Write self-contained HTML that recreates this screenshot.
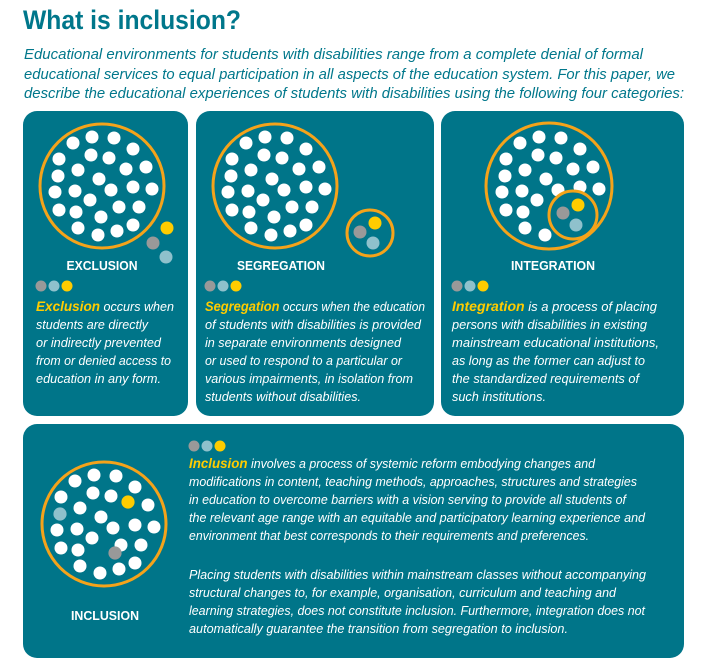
<!DOCTYPE html>
<html><head><meta charset="utf-8"><style>
html,body{margin:0;padding:0;background:#fff;}
svg{display:block;}
text{font-family:"Liberation Sans",sans-serif;}
.it{font-style:italic;fill:#fff;font-size:12.5px;}
.hd{font-style:italic;font-weight:bold;fill:#ffcc00;font-size:13.5px;}
.lb{font-weight:bold;fill:#fff;font-size:13px;text-anchor:middle;}
</style></head><body>
<svg width="708" height="664" viewBox="0 0 708 664" xmlns="http://www.w3.org/2000/svg">
<defs>
<g id="base" fill="#fff">
<circle cx="-29" cy="-43" r="6.5"/><circle cx="-10" cy="-49" r="6.5"/><circle cx="12" cy="-48" r="6.5"/><circle cx="31" cy="-37" r="6.5"/>
<circle cx="-43" cy="-27" r="6.5"/><circle cx="-11" cy="-31" r="6.5"/><circle cx="7" cy="-28" r="6.5"/><circle cx="44" cy="-19" r="6.5"/>
<circle cx="-24" cy="-16" r="6.5"/><circle cx="-3" cy="-7" r="6.5"/>
<circle cx="-47" cy="6" r="6.5"/><circle cx="-27" cy="5" r="6.5"/><circle cx="9" cy="4" r="6.5"/><circle cx="31" cy="1" r="6.5"/>
<circle cx="50" cy="3" r="6.5"/><circle cx="-43" cy="24" r="6.5"/><circle cx="-26" cy="26" r="6.5"/><circle cx="-12" cy="14" r="6.5"/>
<circle cx="-24" cy="42" r="6.5"/><circle cx="-4" cy="49" r="6.5"/>
</g>
<g id="dots"><use href="#base"/><g fill="#fff">
<circle cx="24" cy="-17" r="6.5"/><circle cx="-44" cy="-10" r="6.5"/><circle cx="-1" cy="31" r="6.5"/>
<circle cx="17" cy="21" r="6.5"/><circle cx="37" cy="21" r="6.5"/><circle cx="15" cy="45" r="6.5"/><circle cx="31" cy="39" r="6.5"/></g></g>
<g id="dotsI"><use href="#base"/><g fill="#fff"><circle cx="24" cy="-17" r="6.5"/><circle cx="-44" cy="-10" r="6.5"/></g></g>
<g id="dotsC"><use href="#base"/><g fill="#fff"><circle cx="17" cy="21" r="6.5"/><circle cx="37" cy="21" r="6.5"/><circle cx="15" cy="45" r="6.5"/><circle cx="31" cy="39" r="6.5"/></g></g>
<g id="trio"><circle cx="0" cy="0" r="5.5" fill="#999"/><circle cx="13" cy="0" r="5.5" fill="#8fc1cc"/><circle cx="26" cy="0" r="5.5" fill="#ffcc00"/></g>
</defs>

<text x="23" y="29" font-size="27" font-weight="bold" fill="#00778b" textLength="218" lengthAdjust="spacingAndGlyphs">What is inclusion?</text>
<g font-size="14.5" font-style="italic" fill="#00778b">
<text x="24" y="59" textLength="619" lengthAdjust="spacingAndGlyphs">Educational environments for students with disabilities range from a complete denial of formal</text>
<text x="24" y="79" textLength="651" lengthAdjust="spacingAndGlyphs">educational services to equal participation in all aspects of the education system. For this paper, we</text>
<text x="24" y="98" textLength="660" lengthAdjust="spacingAndGlyphs">describe the educational experiences of students with disabilities using the following four categories:</text>
</g>

<g fill="#007589">
<rect x="23" y="111" width="165" height="305" rx="14"/>
<rect x="196" y="111" width="238" height="305" rx="14"/>
<rect x="441" y="111" width="243" height="305" rx="14"/>
<rect x="23" y="424" width="661" height="234" rx="14"/>
</g>

<!-- Exclusion -->
<circle cx="102" cy="186" r="62" fill="none" stroke="#f5a31a" stroke-width="3"/>
<use href="#dots" x="102" y="186"/>
<circle cx="167" cy="228" r="6.5" fill="#ffcc00"/><circle cx="153" cy="243" r="6.5" fill="#999"/><circle cx="166" cy="257" r="6.5" fill="#8fc1cc"/>
<text class="lb" x="102" y="270" textLength="71" lengthAdjust="spacingAndGlyphs">EXCLUSION</text>
<use href="#trio" x="41" y="286"/>
<text x="36" y="311" class="it" textLength="138" lengthAdjust="spacingAndGlyphs"><tspan class="hd">Exclusion</tspan> occurs when</text>
<text x="36" y="329" class="it" textLength="112" lengthAdjust="spacingAndGlyphs">students are directly</text>
<text x="36" y="347" class="it" textLength="125" lengthAdjust="spacingAndGlyphs">or indirectly prevented</text>
<text x="36" y="365" class="it" textLength="135" lengthAdjust="spacingAndGlyphs">from or denied access to</text>
<text x="36" y="383" class="it" textLength="125" lengthAdjust="spacingAndGlyphs">education in any form.</text>

<!-- Segregation -->
<circle cx="275" cy="186" r="62" fill="none" stroke="#f5a31a" stroke-width="3"/>
<use href="#dots" x="275" y="186"/>
<circle cx="370" cy="233" r="23" fill="none" stroke="#f5a31a" stroke-width="3"/>
<circle cx="375" cy="223" r="6.5" fill="#ffcc00"/><circle cx="360" cy="232" r="6.5" fill="#999"/><circle cx="373" cy="243" r="6.5" fill="#8fc1cc"/>
<text class="lb" x="281" y="270" textLength="88" lengthAdjust="spacingAndGlyphs">SEGREGATION</text>
<use href="#trio" x="210" y="286"/>
<text x="205" y="311" class="it" textLength="220" lengthAdjust="spacingAndGlyphs"><tspan class="hd">Segregation</tspan> occurs when the education</text>
<text x="205" y="329" class="it" textLength="216" lengthAdjust="spacingAndGlyphs">of students with disabilities is provided</text>
<text x="205" y="347" class="it" textLength="196" lengthAdjust="spacingAndGlyphs">in separate environments designed</text>
<text x="205" y="365" class="it" textLength="197" lengthAdjust="spacingAndGlyphs">or used to respond to a particular or</text>
<text x="205" y="383" class="it" textLength="208" lengthAdjust="spacingAndGlyphs">various impairments, in isolation from</text>
<text x="205" y="401" class="it" textLength="156" lengthAdjust="spacingAndGlyphs">students without disabilities.</text>

<!-- Integration -->
<circle cx="549" cy="186" r="63" fill="none" stroke="#f5a31a" stroke-width="3"/>
<use href="#dotsI" x="549" y="186"/>
<circle cx="573" cy="215" r="24" fill="#007589" stroke="#f5a31a" stroke-width="3"/>
<circle cx="578" cy="205" r="6.5" fill="#ffcc00"/><circle cx="563" cy="213" r="6.5" fill="#999"/><circle cx="576" cy="225" r="6.5" fill="#8fc1cc"/>
<text class="lb" x="553" y="270" textLength="84" lengthAdjust="spacingAndGlyphs">INTEGRATION</text>
<use href="#trio" x="457" y="286"/>
<text x="452" y="311" class="it" textLength="205" lengthAdjust="spacingAndGlyphs"><tspan class="hd">Integration</tspan> is a process of placing</text>
<text x="452" y="329" class="it" textLength="195" lengthAdjust="spacingAndGlyphs">persons with disabilities in existing</text>
<text x="452" y="347" class="it" textLength="207" lengthAdjust="spacingAndGlyphs">mainstream educational institutions,</text>
<text x="452" y="365" class="it" textLength="193" lengthAdjust="spacingAndGlyphs">as long as the former can adjust to</text>
<text x="452" y="383" class="it" textLength="187" lengthAdjust="spacingAndGlyphs">the standardized requirements of</text>
<text x="452" y="401" class="it" textLength="94" lengthAdjust="spacingAndGlyphs">such institutions.</text>

<!-- Inclusion -->
<circle cx="104" cy="524" r="62" fill="none" stroke="#f5a31a" stroke-width="3"/>
<use href="#dotsC" x="104" y="524"/>
<circle cx="128" cy="502" r="6.6" fill="#ffcc00"/><circle cx="60" cy="514" r="6.6" fill="#8fc1cc"/><circle cx="115" cy="553" r="6.6" fill="#999"/>
<text class="lb" x="105" y="620" textLength="68" lengthAdjust="spacingAndGlyphs">INCLUSION</text>
<use href="#trio" x="194" y="446"/>
<text x="189" y="468" class="it" textLength="406" lengthAdjust="spacingAndGlyphs"><tspan class="hd">Inclusion</tspan> involves a process of systemic reform embodying changes and</text>
<text x="189" y="486" class="it" textLength="448" lengthAdjust="spacingAndGlyphs">modifications in content, teaching methods, approaches, structures and strategies</text>
<text x="189" y="504" class="it" textLength="437" lengthAdjust="spacingAndGlyphs">in education to overcome barriers with a vision serving to provide all students of</text>
<text x="189" y="522" class="it" textLength="456" lengthAdjust="spacingAndGlyphs">the relevant age range with an equitable and participatory learning experience and</text>
<text x="189" y="540" class="it" textLength="400" lengthAdjust="spacingAndGlyphs">environment that best corresponds to their requirements and preferences.</text>
<text x="189" y="579" class="it" textLength="457" lengthAdjust="spacingAndGlyphs">Placing students with disabilities within mainstream classes without accompanying</text>
<text x="189" y="597" class="it" textLength="427" lengthAdjust="spacingAndGlyphs">structural changes to, for example, organisation, curriculum and teaching and</text>
<text x="189" y="615" class="it" textLength="456" lengthAdjust="spacingAndGlyphs">learning strategies, does not constitute inclusion. Furthermore, integration does not</text>
<text x="189" y="633" class="it" textLength="379" lengthAdjust="spacingAndGlyphs">automatically guarantee the transition from segregation to inclusion.</text>
</svg>
</body></html>
